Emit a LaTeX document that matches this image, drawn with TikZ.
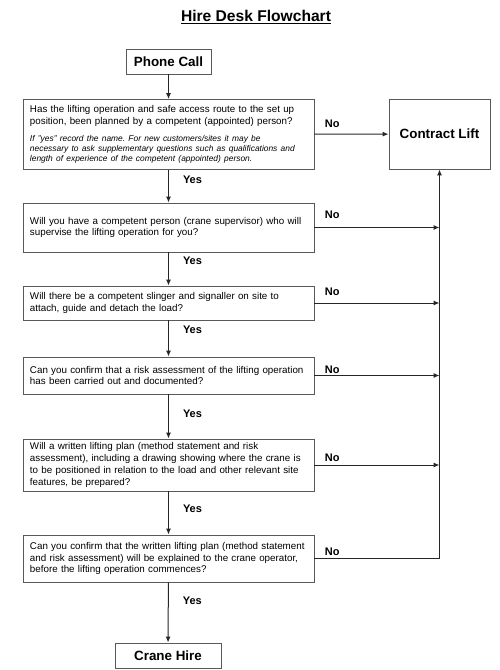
\documentclass[tikz,border=0pt]{standalone}
\usepackage{fontspec}
\setmainfont{Liberation Sans}
\usetikzlibrary{arrows.meta}
\frenchspacing

\begin{document}
\begin{tikzpicture}[x=1pt, y=-1pt,
		qbox/.style={draw=black!65, line width=0.9pt, text width=277pt, inner xsep=7pt, inner ysep=3pt, align=left, font=\fontsize{9.8}{11.7}\selectfont},
		endbox/.style={draw=black!65, line width=0.9pt, font=\bfseries\fontsize{13.4}{15}\selectfont},
		lbl/.style={inner sep=0pt, font=\bfseries\fontsize{11}{12}\selectfont},
		flow/.style={-{Latex[length=6pt, width=5pt]}, line width=1pt, draw=black!85}]
			\useasboundingbox (0,0) rectangle (500,670);
			\node (title) at (256,17) {\bfseries\fontsize{15.6}{18}\selectfont\underline{Hire Desk Flowchart}};
			\node[endbox, minimum width=85pt, minimum height=25pt] (call) at (168.5,61.5) {Phone Call};
			\node[endbox, minimum width=101pt, minimum height=70pt] (cl) at (439.5,134) {Contract Lift};
			\node[endbox, minimum width=106pt, minimum height=25pt] (hire) at (168,655.5) {Crane Hire};
			\node[qbox, minimum height=70pt] (q1) at (168.5,134.5) {Has the lifting operation and safe access route to the set up\\position, been planned by a competent (appointed) person?\par\vspace{7pt}{\itshape\fontsize{8.4}{10}\selectfont If "yes" record the name. For new customers/sites it may be\\necessary to ask supplementary questions such as qualifications and\\length of experience of the competent (appointed) person.\par}};
			\node[qbox, minimum height=49pt] (q2) at (168.5,227.5) {Will you have a competent person (crane supervisor) who will\\supervise the lifting operation for you?};
			\node[qbox, minimum height=34pt] (q3) at (168.5,303) {Will there be a competent slinger and signaller on site to\\attach, guide and detach the load?};
			\node[qbox, minimum height=37pt] (q4) at (168.5,375.5) {Can you confirm that a risk assessment of the lifting operation\\has been carried out and documented?};
			\node[qbox, minimum height=52pt] (q5) at (168.5,465) {Will a written lifting plan (method statement and risk\\assessment), including a drawing showing where the crane is\\to be positioned in relation to the load and other relevant site\\features, be prepared?};
			\node[qbox, minimum height=47pt] (q6) at (168.5,558.5) {Can you confirm that the written lifting plan (method statement\\and risk assessment) will be explained to the crane operator,\\before the lifting operation commences?};
			\draw[flow] (call) to (q1);
			\draw[flow] (q1) to node[lbl, right, pos=0.29, xshift=14pt] (y1) {Yes} (q2);
			\draw[flow] (q2) to node[lbl, right, pos=0.26, xshift=14pt] (y2) {Yes} (q3);
			\draw[flow] (q3) to node[lbl, right, pos=0.27, xshift=14pt] (y3) {Yes} (q4);
			\draw[flow] (q4) to node[lbl, right, pos=0.44, xshift=14pt] (y4) {Yes} (q5);
			\draw[flow] (q5) to node[lbl, right, pos=0.41, xshift=14pt] (y5) {Yes} (q6);
			\draw[flow] (q6) to node[lbl, right, pos=0.31, xshift=14pt] (y6) {Yes} (hire);
			\draw[flow] (q1) to node[lbl, anchor=south west, pos=0, xshift=10pt, yshift=6pt] (n1) {No} (cl);
			\draw[flow] (q2.east) -- node[lbl, anchor=south west, pos=0, xshift=10pt, yshift=8pt] (n2) {No} (q2.east -| cl.south);
			\draw[flow] (q3.east) -- node[lbl, anchor=south west, pos=0, xshift=10pt, yshift=7pt] (n3) {No} (q3.east -| cl.south);
			\draw[flow] (q4.east) -- node[lbl, anchor=south west, pos=0, xshift=10pt, yshift=1pt] (n4) {No} (q4.east -| cl.south);
			\draw[flow] (q5.east) -- node[lbl, anchor=south west, pos=0, xshift=10pt, yshift=3pt] (n5) {No} (q5.east -| cl.south);
			\draw[flow] (q6.east) -- node[lbl, anchor=south west, pos=0, xshift=10pt, yshift=2pt] (n6) {No} (q6.east -| cl.south) -- (cl.south);
		\end{tikzpicture}
\end{document}
